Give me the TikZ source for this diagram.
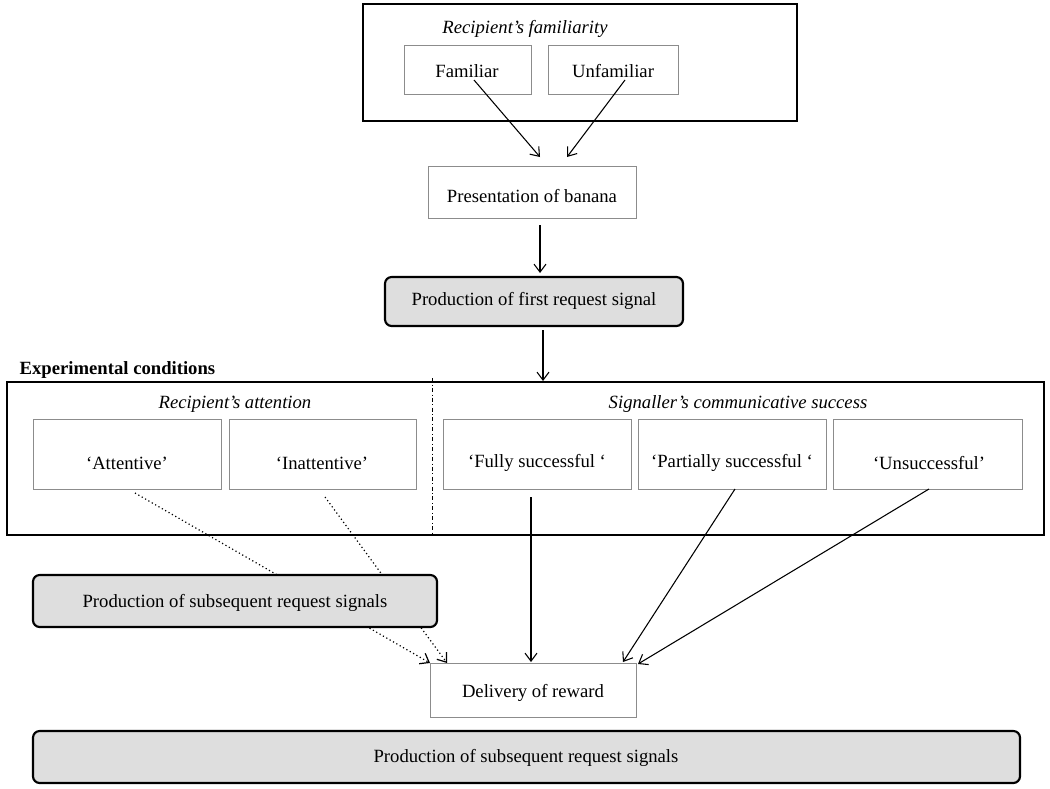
\documentclass[tikz,border=0pt]{standalone}
\usepackage{fontspec}
\setmainfont{Liberation Serif}
\usetikzlibrary{arrows.meta}
\begin{document}
\begin{tikzpicture}[x=0.75pt,y=-0.75pt,
 box/.style={draw=black!45,fill=white,line width=0.6pt},
 big/.style={draw=black,line width=1.8pt},
 gray/.style={draw=black,fill=black!13,line width=1.6pt,rounded corners=5pt},
 arr/.style={->,>={Straight Barb[length=6pt,width=9pt]},line width=0.8pt},
 dot/.style={dotted,line width=0.9pt},
 lab/.style={font=\fontsize{14}{16}\selectfont},
 ilab/.style={font=\fontsize{14}{16}\selectfont\itshape}]
\useasboundingbox (0,0) rectangle (1050,789);
% top
\draw[big] (363,4) rectangle (797,121);
\node[ilab] (t1) at (525,29) {Recipient’s familiarity};
\draw[box] (404,45) rectangle (531,94); \node[lab] (fam) at (467,71) {Familiar};
\draw[box] (548,45) rectangle (678,94); \node[lab] (unf) at (613,71) {Unfamiliar};
\draw[box] (428,166) rectangle (636,218); \node[lab] (pres) at (532,196) {Presentation of banana};
\draw[gray] (385,277) rectangle (683,326); \node[lab] (first) at (534,301) {Production of first request signal};
\coordinate (a1) at (474,80); \coordinate (a2) at (540,157);
\coordinate (b1) at (625,80); \coordinate (b2) at (567,157);
\draw[arr] (a1) -- (a2); \draw[arr] (b1) -- (b2);
\coordinate (c1) at (540,225); \coordinate (c2) at (540,273);
\draw[arr] (c1) -- (c2);
\coordinate (d1) at (543,330); \coordinate (d2) at (543,381);
\draw[arr] (d1) -- (d2);
% conditions
\node[font=\fontsize{14}{16}\selectfont\bfseries,anchor=west] (ec) at (15,370) {Experimental conditions};
\draw[big] (7,382) rectangle (1044,535);
\draw[dash dot,line width=0.7pt] (432,378) -- (432,535);
\node[ilab] (ra) at (235,404) {Recipient’s attention};
\node[ilab] (sc) at (738,404) {Signaller’s communicative success};
\draw[box] (33,419) rectangle (221,489); \node[lab] (att) at (127,463) {‘Attentive’};
\draw[box] (229,419) rectangle (416,489); \node[lab] (ina) at (322,463) {‘Inattentive’};
\draw[box] (443,419) rectangle (631,489); \node[lab] (ful) at (537,463) {‘Fully successful ‘};
\draw[box] (638,419) rectangle (826,489); \node[lab] (par) at (732,463) {‘Partially successful ‘};
\draw[box] (833,419) rectangle (1022,489); \node[lab] (uns) at (929,463) {‘Unsuccessful’};
% dotted
\coordinate (e1) at (135,493); \coordinate (e2) at (430,663);
\coordinate (f1) at (325,497); \coordinate (f2) at (447,663);
\draw[dot,->,>={Straight Barb[length=6pt,width=9pt]}] (e1) -- (e2);
\draw[dot,->,>={Straight Barb[length=6pt,width=9pt]}] (f1) -- (f2);
\draw[gray] (33,575) rectangle (437,627); \node[lab] (sub1) at (235,603) {Production of subsequent request signals};
% solid
\coordinate (g1) at (531,497); \coordinate (g2) at (531,662);
\coordinate (h1) at (735,489); \coordinate (h2) at (623,662);
\coordinate (i1) at (929,489); \coordinate (i2) at (638,664);
\draw[arr] (g1) -- (g2); \draw[arr] (h1) -- (h2); \draw[arr] (i1) -- (i2);
\draw[box] (430,663) rectangle (636,717); \node[lab] (del) at (533,693) {Delivery of reward};
\draw[gray] (33,731) rectangle (1020,783); \node[lab] (sub2) at (526,758) {Production of subsequent request signals};
\end{tikzpicture}
\end{document}
